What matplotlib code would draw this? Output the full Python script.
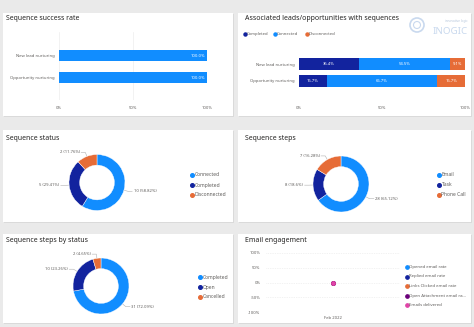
import matplotlib
matplotlib.use("Agg")
import matplotlib.pyplot as plt
from matplotlib.patches import Rectangle, Circle
import numpy as np

plt.rcParams['font.family'] = ['Noto Sans', 'DejaVu Sans']

# ---- data ----
sequences = ["New lead nurturing", "Opportunity nurturing"]
success_rate = [100.0, 100.0]

assoc_status = ["Completed", "Connected", "Disconnected"]
assoc_counts = {
    "New lead nurturing": [4, 6, 1],
    "Opportunity nurturing": [1, 4, 1],
}

status_labels = ["Connected", "Completed", "Disconnected"]
status_counts = [10, 5, 2]

step_labels = ["Email", "Task", "Phone Call"]
step_counts = [28, 8, 7]

step_status_labels = ["Completed", "Open", "Cancelled"]
step_status_counts = [31, 10, 2]

engagement_series = ["Opened email rate", "Replied email rate", "Links Clicked email rate",
                     "Open Attachment email ra...", "Emails delivered"]
engagement_month = ["Feb 2022"]
engagement_values = [[0.0], [0.0], [0.0], [0.0], [0.0]]
pct_ticks = [-100, -50, 0, 50, 100]

BLUE = "#118DFF"
NAVY = "#12239E"
ORANGE = "#E66C37"
PURPLE = "#6B007B"
PINK = "#E044A7"
TXT = "#252423"
GREY = "#605E5C"

W, H = 474, 327
fig = plt.figure(figsize=(W / 100, H / 100), dpi=100)
fig.patch.set_facecolor("#EAEAEA")

bg = fig.add_axes([0, 0, 1, 1], zorder=-10)
bg.set_xlim(0, W)
bg.set_ylim(H, 0)
bg.axis("off")


def px_axes(x0, y0, x1, y1, **kw):
    return fig.add_axes([x0 / W, 1 - y1 / H, (x1 - x0) / W, (y1 - y0) / H], **kw)


# cards
cards = [(3, 13, 233, 116), (238, 13, 471, 116),
         (3, 130, 233, 222), (238, 130, 471, 222),
         (3, 234, 233, 323), (238, 234, 471, 323)]
for x0, y0, x1, y1 in cards:
    bg.add_patch(Rectangle((x0 + 1, y0 + 1), x1 - x0, y1 - y0, color="#DADADA", lw=0))
    bg.add_patch(Rectangle((x0, y0), x1 - x0, y1 - y0, color="white", lw=0))

titles = [(6, 19, "Sequence success rate"),
          (245, 18, "Associated leads/opportunities with sequences"),
          (6, 138, "Sequence status"),
          (245, 138, "Sequence steps"),
          (6, 240, "Sequence steps by status"),
          (245, 240, "Email engagement")]
for x, y, t in titles:
    bg.text(x, y, t, fontsize=5, color=TXT, va="center", ha="left")

# logo watermark
bg.add_patch(Circle((417, 25), 7, fill=False, ec="#C9D9EE", lw=1.2))
bg.add_patch(Circle((417, 25), 3.5, fill=False, ec="#C9D9EE", lw=0.8))
bg.text(468, 21, "innovative logic", fontsize=2.3, color="#B8C8DC", ha="right", va="center")
bg.text(468, 31, "INOGIC", fontsize=7, color="#C9D9EE", ha="right", va="center",
        fontweight="bold")


def style_bar_axes(ax):
    for s in ax.spines.values():
        s.set_visible(False)
    ax.tick_params(axis="both", length=0, labelsize=3, labelcolor=GREY)
    ax.set_xlim(0, 100)
    ax.set_xticks([0, 50, 100])
    ax.set_xticklabels(["0%", "50%", "100%"])
    ax.grid(axis="x", color="#EDEDED", lw=0.5)
    ax.set_axisbelow(True)
    ax.patch.set_alpha(0)


# ---- Sequence success rate ----
ax1 = px_axes(59, 32, 207, 100)
ypos = np.arange(len(sequences))
ax1.barh(ypos, success_rate, height=0.5, color=BLUE)
style_bar_axes(ax1)
ax1.set_ylim(2.0, -1.09)
ax1.set_yticks(ypos)
ax1.set_yticklabels(sequences)
ax1.tick_params(axis="x", pad=4.5)
ax1.tick_params(axis="y", pad=3)
for y, v in zip(ypos, success_rate):
    ax1.text(v - 1.5, y, f"{v:.1f}%", color="white", fontsize=3, ha="right", va="center")

# ---- Associated leads/opportunities ----
ax2 = px_axes(299, 44, 465, 100)
colors3 = [NAVY, BLUE, ORANGE]
left = np.zeros(len(sequences))
for i, st in enumerate(assoc_status):
    shares = []
    for seq in sequences:
        c = assoc_counts[seq]
        shares.append(100.0 * c[i] / sum(c))
    shares = np.array(shares)
    ax2.barh(ypos, shares, left=left, height=0.7, color=colors3[i])
    for y, l, s in zip(ypos, left, shares):
        ax2.text(l + s / 2, y, f"{s:.1f}%", color="white", fontsize=3, ha="center", va="center")
    left += shares
style_bar_axes(ax2)
ax2.grid(False)
ax2.set_ylim(2.12, -1.18)
ax2.set_yticks(ypos)
ax2.set_yticklabels(sequences)
ax2.tick_params(axis="x", pad=4.5)
ax2.tick_params(axis="y", pad=3)

# legend for stacked bars
lx = [245, 275, 307]
for x, st, c in zip(lx, assoc_status, colors3):
    bg.plot(x, 34, "o", ms=2.2, color=c)
    bg.text(x + 2, 34, st, fontsize=3, color=GREY, va="center", ha="left")


# ---- donut helper ----
def donut(cx, cy, R, counts, labels, colors, leg_x, leg_y, label_fmt):
    ax = px_axes(cx - R, cy - R, cx + R, cy + R)
    ax.pie(counts, colors=colors, startangle=90, counterclock=False,
           wedgeprops=dict(width=0.38, edgecolor="white", linewidth=0.3))
    ax.set_xlim(-1, 1)
    ax.set_ylim(-1, 1)
    ax.set_aspect("equal")
    total = sum(counts)
    start = 90.0
    for n in counts:
        frac = n / total
        mid = np.deg2rad(start - frac * 180)
        start -= frac * 360
        c, s = np.cos(mid), np.sin(mid)
        p0 = (1.02 * c, 1.02 * s)
        p1 = (1.15 * c, 1.15 * s)
        side = 1 if c >= 0 else -1
        p2 = (p1[0] + side * 0.15, p1[1])
        ax.plot([p0[0], p1[0], p2[0]], [p0[1], p1[1], p2[1]], color="#B0B0B0",
                lw=0.4, clip_on=False)
        ax.text(p2[0] + side * 0.05, p2[1], label_fmt(n, frac), fontsize=3, color=GREY,
                ha="left" if side > 0 else "right", va="center", clip_on=False)
    for i, (lab, col) in enumerate(zip(labels, colors)):
        y = leg_y + i * 10
        bg.plot(leg_x, y, "o", ms=2.6, color=col)
        bg.text(leg_x + 2.5, y, lab, fontsize=3.6, color=GREY, va="center", ha="left")


def fmt2(n, f):
    return f"{n} ({100 * f:.2f}%)"


def fmt_g(n, f):
    v = round(100 * f, 2)
    s = f"{v:.2f}".rstrip("0").rstrip(".")
    return f"{n} ({s}%)"


donut(97, 182.5, 28, status_counts, status_labels, [BLUE, NAVY, ORANGE], 192, 175, fmt2)
donut(341, 184, 28, step_counts, step_labels, [BLUE, NAVY, ORANGE], 439, 175, fmt_g)
donut(101, 286, 28, step_status_counts, step_status_labels, [BLUE, NAVY, ORANGE], 200, 277, fmt2)

# ---- Email engagement ----
ax6 = px_axes(266, 253, 400, 312)
series_colors = [BLUE, NAVY, ORANGE, PURPLE, PINK]
xs = np.arange(len(engagement_month))
for name, vals, col in zip(engagement_series, engagement_values, series_colors):
    ax6.plot(xs, vals, "o", ms=2.4, color=col, label=name)
ax6.set_xlim(-0.5, 0.5)
ax6.set_ylim(-100, 100)
ax6.set_yticks(pct_ticks)
ax6.set_yticklabels([f"{t}%" for t in pct_ticks])
ax6.set_xticks(xs)
ax6.set_xticklabels(engagement_month)
ax6.grid(axis="y", color="#E6E6E6", lw=0.5, ls=(0, (1, 1.5)))
ax6.set_axisbelow(True)
for s in ax6.spines.values():
    s.set_visible(False)
ax6.tick_params(axis="both", length=0, labelsize=3, labelcolor=GREY)
ax6.tick_params(axis="x", pad=3)
ax6.tick_params(axis="y", pad=4)
ax6.patch.set_alpha(0)

for i, (name, col) in enumerate(zip(engagement_series, series_colors)):
    y = 267 + i * 9.5
    bg.plot(407, y, "o", ms=2.4, color=col)
    bg.text(409.5, y, name, fontsize=3.1, color=GREY, va="center", ha="left")

fig.savefig("out.png", dpi=100, facecolor=fig.get_facecolor())
